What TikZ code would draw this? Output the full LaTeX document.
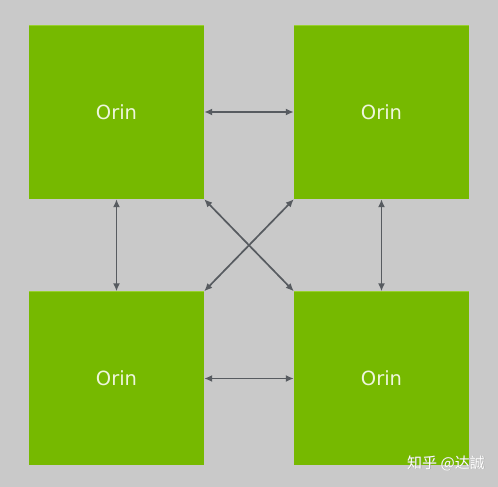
\documentclass[tikz,border=0pt]{standalone}
\usepackage{fontspec}
\setmainfont{DejaVu Sans}
\newfontfamily\cjkfont{Noto Sans CJK SC}
\usetikzlibrary{arrows.meta}
\definecolor{bggray}{HTML}{C9C9C9}
\definecolor{nvgreen}{HTML}{76B900}
\definecolor{nvlight}{HTML}{98D02E}
\definecolor{orintext}{HTML}{EEF6DC}
\definecolor{linkgray}{HTML}{575B60}
\definecolor{wmshadow}{HTML}{8A8A8A}
\tikzset{
  orinbox/.style={fill=nvgreen, draw=none, minimum width=175pt, minimum height=174pt,
    inner sep=0pt, text=orintext, font=\fontsize{19.5}{22}\selectfont},
  link/.style={draw=linkgray, line width=1.7pt, {Latex[length=8pt,width=7pt]}-{Latex[length=8pt,width=7pt]}},
  hilite/.style={draw=nvlight, line width=1.2pt},
  wmark/.style={font=\cjkfont\fontsize{15}{17}\selectfont, inner sep=0pt}
}
\begin{document}
\begin{tikzpicture}[x=1pt,y=1pt]
  \fill[bggray] (0,0) rectangle (498,487);
  \useasboundingbox (0,0) rectangle (498,487);
  \node[orinbox] (tl) at (116.5,375) {Orin};
  \node[orinbox] (tr) at (381.5,375) {Orin};
  \node[orinbox] (bl) at (116.5,108.5) {Orin};
  \node[orinbox] (br) at (381.5,108.5) {Orin};
  \foreach \n in {tl,tr,bl,br}{
    \draw[hilite] ([yshift=-0.6pt]\n.north west) -- ([yshift=-0.6pt]\n.north east);
  }
  \draw[link] (tl.east) -- (tr.west);
  \draw[link] (bl.east) -- (br.west);
  \draw[link] (tl.south) -- (bl.north);
  \draw[link] (tr.south) -- (br.north);
  \draw[link] (tl.south east) -- (br.north west);
  \draw[link] (tr.south west) -- (bl.north east);
  \node[wmark, text=wmshadow, opacity=0.6] (wmsh) at (446.6,23.4) {知乎 @达誠};
  \node[wmark, text=white] (wm) at (446,24) {知乎 @达誠};
\end{tikzpicture}
\end{document}
